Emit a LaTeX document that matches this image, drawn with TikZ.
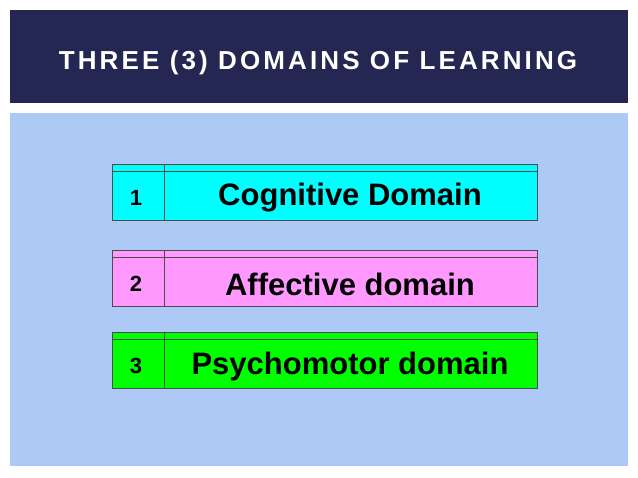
\documentclass[tikz,border=0pt]{standalone}
\usepackage{fontspec}
\setmainfont{Liberation Sans}
\definecolor{navy}{HTML}{232752}
\definecolor{panel}{HTML}{ADC9F6}
\definecolor{cyanc}{HTML}{00FFFF}
\definecolor{pinkc}{HTML}{FF99FF}
\definecolor{greenc}{HTML}{00FF00}
\tikzset{cell/.style={draw=black!70,line width=0.6pt},
 lbl/.style={font=\fontsize{31}{32}\selectfont\bfseries},
 num/.style={font=\fontsize{22}{24}\selectfont\bfseries}}
\begin{document}
\begin{tikzpicture}[x=1pt,y=-1pt]
\useasboundingbox (0,0) rectangle (638,478);
\fill[white] (0,0) rectangle (638,478);
\fill[navy] (10,10) rectangle (628,103);
\node[text=white,font=\fontsize{26}{27}\selectfont\bfseries\addfontfeature{LetterSpace=12}] (title) at (318,63) {THREE (3) DOMAINS OF LEARNING};
\fill[panel] (10,113) rectangle (628,466);
\foreach \t/\c/\n/\txt/\nm in {164/cyanc/1/Cognitive Domain/a,250/pinkc/2/Affective domain/b,332/greenc/3/Psychomotor domain/c}{
  \filldraw[cell,fill=\c] (112,\t) rectangle (537,\t+56);
  \draw[cell] (112,\t+7) -- (537,\t+7);
  \draw[cell] (164,\t) -- (164,\t+56);
  \node[num] (n\nm) at (136,\t+34) {\n};
  \node[lbl] (l\nm) at (350,\t+34) {\txt};
}
\end{tikzpicture}
\end{document}
